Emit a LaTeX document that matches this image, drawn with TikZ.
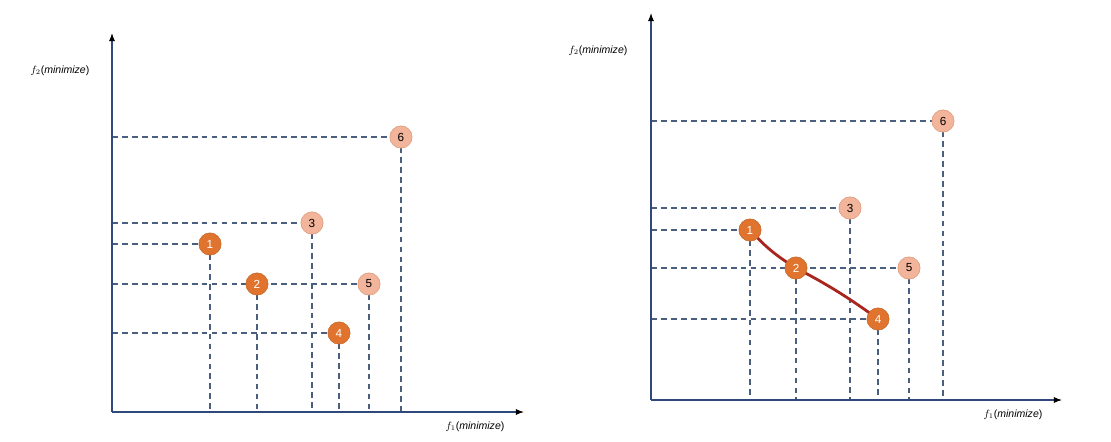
\documentclass[tikz,border=0pt]{standalone}
\usepackage{fontspec}
\setmainfont{Liberation Sans}
\usetikzlibrary{positioning}
\usetikzlibrary{arrows.meta,arrows}
\definecolor{guide}{HTML}{4A5E80}
\definecolor{axisblue}{HTML}{2F4A7A}
\definecolor{darkpt}{HTML}{E0742E}
\definecolor{lightpt}{HTML}{F2B49A}
\definecolor{lightrim}{HTML}{D9926F}
\definecolor{front}{HTML}{A8261E}
\tikzset{
	dpoint/.style={circle,fill=darkpt,draw=darkpt!85!black,text=white,inner sep=0pt,minimum size=19pt,font=\normalsize},
	lpoint/.style={circle,fill=lightpt,draw=lightrim,text=black,inner sep=0pt,minimum size=19pt,font=\normalsize},
	guideline/.style={guide,line width=0.9pt,dash pattern=on 5pt off 3.5pt},
	axisline/.style={axisblue,line width=0.9pt,-{Latex[length=7pt,black]}},
	axislabel/.style={font=\small}
}
\begin{document}
\begin{tikzpicture}[x=0.03cm,y=-0.03cm]
				\useasboundingbox (0,0) rectangle (1111,441);
				% left panel
				\coordinate (lo) at (112,412);
				\coordinate (ly) at (112,33);
				\coordinate (lx) at (524,412);
				\coordinate (l1) at (210,244);
				\coordinate (l2) at (257,284);
				\coordinate (l3) at (312,223);
				\coordinate (l4) at (339,333);
				\coordinate (l5) at (369,284);
				\coordinate (l6) at (401,137);
				\foreach \p in {1,...,6}{
					\draw[guideline] (lo |- l\p) -- (l\p);
					\draw[guideline] (l\p) -- (l\p |- lo);
				}
				\foreach \p/\s in {1/dpoint,2/dpoint,3/lpoint,4/dpoint,5/lpoint,6/lpoint}
					\node[\s](lp\p) at (l\p) {\p};
				\draw[axisline] (lo) -- (ly);
				\draw[axisline] (lo) -- (lx);
				\node[axislabel](lf2) at (60,71) {$f_2$(\textit{minimize})};
				\node[axislabel](lf1) at (475,427) {$f_1$(\textit{minimize})};

				% right panel
				\coordinate (ro) at (651,400);
				\coordinate (ry) at (651,13);
				\coordinate (rx) at (1062,400);
				\coordinate (r1) at (750,230);
				\coordinate (r2) at (796,268);
				\coordinate (r3) at (850,208);
				\coordinate (r4) at (878,319);
				\coordinate (r5) at (909,268);
				\coordinate (r6) at (943,121);
				\foreach \p in {1,...,6}{
					\draw[guideline] (ro |- r\p) -- (r\p);
					\draw[guideline] (r\p) -- (r\p |- ro);
				}
				\draw[front,line width=2.4pt] (r1) to[bend right=8] (r2) to[bend left=4] (r4);
				\foreach \p/\s in {1/dpoint,2/dpoint,3/lpoint,4/dpoint,5/lpoint,6/lpoint}
					\node[\s](rp\p) at (r\p) {\p};
				\draw[axisline] (ro) -- (ry);
				\draw[axisline] (ro) -- (rx);
				\node[axislabel](rf2) at (598,51) {$f_2$(\textit{minimize})};
				\node[axislabel](rf1) at (1013,415) {$f_1$(\textit{minimize})};
			\end{tikzpicture}
\end{document}
